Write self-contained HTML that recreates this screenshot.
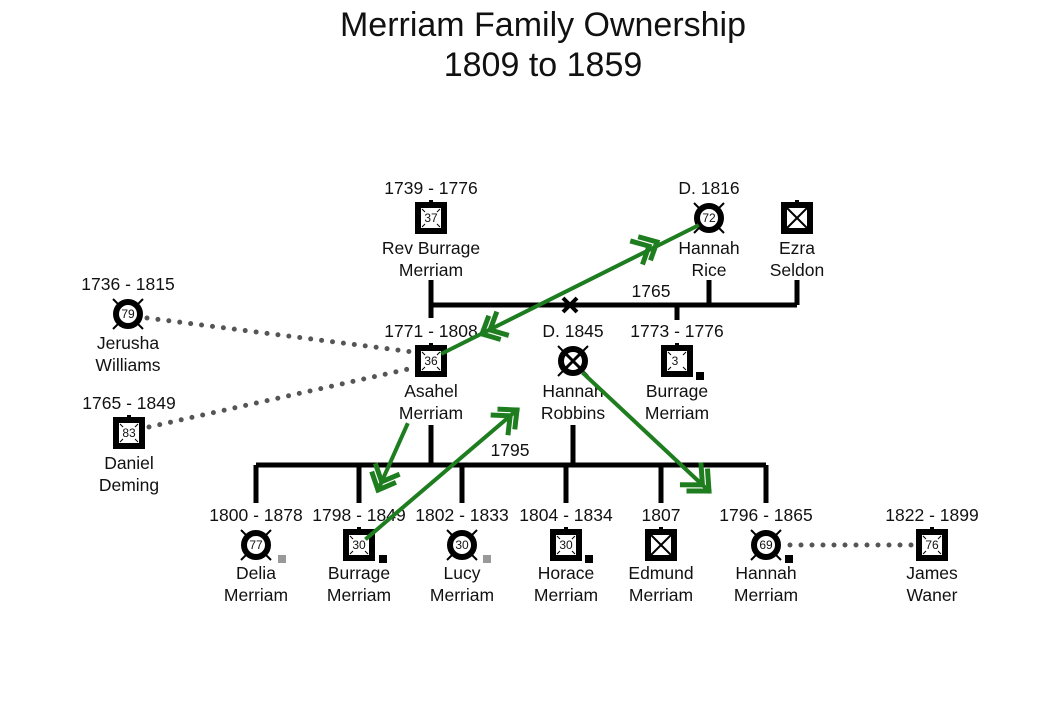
<!DOCTYPE html>
<html><head><meta charset="utf-8"><style>
html,body{margin:0;padding:0;background:#fff;}
svg{display:block;font-family:"Liberation Sans",Arial,sans-serif;}
</style></head><body>
<svg id="s" width="1054" height="703" viewBox="0 0 1054 703" xmlns="http://www.w3.org/2000/svg">
<rect width="1054" height="703" fill="#fff"/>
<text x="543" y="36" font-size="34" text-anchor="middle" fill="#111" textLength="406" lengthAdjust="spacingAndGlyphs">Merriam Family Ownership</text>
<text x="543" y="76" font-size="34" text-anchor="middle" fill="#111">1809 to 1859</text>

<g stroke="#000" stroke-width="5" fill="none">
<path d="M431 280V318M431 305H797M709 280V305M797 280V305M677 305V320"/>
<path d="M431 425V465M573 425V465M256 465H766M256 465V503M359 465V503M462 465V503M566 465V503M661 465V503M766 465V503"/>
<path d="M563 298L577 312M577 298L563 312" stroke-width="4"/>
</g>
<g stroke="#555" stroke-width="5" stroke-linecap="round" stroke-dasharray="0 11" fill="none">
<path d="M147 318L413 352"/>
<path d="M149 427L413 368"/>
<path d="M790 545L917 545"/>
</g>

<g id="nodes"></g>
<g id="labels" font-size="17.5" fill="#111" text-anchor="middle">
<text x="431" y="194">1739 - 1776</text><text x="431" y="254">Rev Burrage</text><text x="431" y="276">Merriam</text>
<text x="709" y="194">D. 1816</text><text x="709" y="254">Hannah</text><text x="709" y="276">Rice</text>
<text x="797" y="254">Ezra</text><text x="797" y="276">Seldon</text>
<text x="651" y="297">1765</text>
<text x="128" y="290">1736 - 1815</text><text x="128" y="349">Jerusha</text><text x="128" y="371">Williams</text>
<text x="129" y="409">1765 - 1849</text><text x="129" y="469">Daniel</text><text x="129" y="491">Deming</text>
<text x="431" y="337">1771 - 1808</text><text x="431" y="397">Asahel</text><text x="431" y="419">Merriam</text>
<text x="573" y="337">D. 1845</text><text x="573" y="397">Hannah</text><text x="573" y="419">Robbins</text>
<text x="677" y="337">1773 - 1776</text><text x="677" y="397">Burrage</text><text x="677" y="419">Merriam</text>
<text x="510" y="456">1795</text>
<text x="256" y="521">1800 - 1878</text><text x="256" y="579">Delia</text><text x="256" y="601">Merriam</text>
<text x="359" y="521">1798 - 1849</text><text x="359" y="579">Burrage</text><text x="359" y="601">Merriam</text>
<text x="462" y="521">1802 - 1833</text><text x="462" y="579">Lucy</text><text x="462" y="601">Merriam</text>
<text x="566" y="521">1804 - 1834</text><text x="566" y="579">Horace</text><text x="566" y="601">Merriam</text>
<text x="661" y="521">1807</text><text x="661" y="579">Edmund</text><text x="661" y="601">Merriam</text>
<text x="766" y="521">1796 - 1865</text><text x="766" y="579">Hannah</text><text x="766" y="601">Merriam</text>
<text x="932" y="521">1822 - 1899</text><text x="932" y="579">James</text><text x="932" y="601">Waner</text>
</g>
<g id="nodes2"></g>
<g id="arrows" stroke="#1e7d1e" stroke-width="4" fill="none" stroke-linecap="square"></g>
<g id="num" font-size="12" fill="#111" text-anchor="middle">
<text x="431" y="222">37</text><text x="709" y="222">72</text><text x="128" y="318">79</text><text x="129" y="437">83</text>
<text x="431" y="365">36</text><text x="675" y="365">3</text>
<text x="256" y="549">77</text><text x="359" y="549">30</text><text x="462" y="549">30</text><text x="566" y="549">30</text><text x="766" y="549">69</text><text x="932" y="549">76</text>
</g>
</svg>
<script>
var NS="http://www.w3.org/2000/svg";
function el(p,tag,a){var e=document.createElementNS(NS,tag);for(var k in a)e.setAttribute(k,a[k]);p.appendChild(e);return e;}
var nodes=document.getElementById('nodes');
function sq(x,y,cross){
  el(nodes,'rect',{x:x-13,y:y-13,width:26,height:26,fill:'#fff',stroke:'#000','stroke-width':6});
  if(cross){el(nodes,'path',{d:'M'+(x-10)+' '+(y-10)+'L'+(x+10)+' '+(y+10)+'M'+(x+10)+' '+(y-10)+'L'+(x-10)+' '+(y+10),stroke:'#000','stroke-width':2});}
  else{el(nodes,'path',{d:'M'+(x-9)+' '+(y-9)+'l3 3M'+(x+9)+' '+(y-9)+'l-3 3M'+(x-9)+' '+(y+9)+'l3 -3M'+(x+9)+' '+(y+9)+'l-3 -3',stroke:'#000','stroke-width':1});}
  el(nodes,'rect',{x:x-2,y:y-18,width:4,height:3,fill:'#000'});
}
function ci(x,y,cross){
  el(nodes,'path',{d:'M'+(x-15)+' '+(y-15)+'L'+(x+15)+' '+(y+15)+'M'+(x+15)+' '+(y-15)+'L'+(x-15)+' '+(y+15),stroke:'#000','stroke-width':2});
  el(nodes,'circle',{cx:x,cy:y,r:12,fill:'#fff',stroke:'#000','stroke-width':6});
  if(cross)el(nodes,'path',{d:'M'+(x-8)+' '+(y-8)+'L'+(x+8)+' '+(y+8)+'M'+(x+8)+' '+(y-8)+'L'+(x-8)+' '+(y+8),stroke:'#000','stroke-width':3});
}
function dot(x,y,c){el(nodes,'rect',{x:x-4,y:y-4,width:8,height:8,fill:c});}
sq(431,218);ci(709,218);sq(797,218,1);ci(128,314);sq(129,433);
sq(431,361);ci(573,361,1);sq(677,361);dot(700,376,'#000');
ci(256,545);dot(282,559,'#999');sq(359,545);dot(383,559,'#000');ci(462,545);dot(487,559,'#999');
sq(566,545);dot(589,559,'#000');sq(661,545,1);ci(766,545);dot(789,559,'#000');sq(932,545);
var ar=document.getElementById('arrows');
function line(a,b,c,d){el(ar,'line',{x1:a,y1:b,x2:c,y2:d});}
function chev(tx,ty,fx,fy,L){
  var dx=tx-fx,dy=ty-fy,n=Math.hypot(dx,dy);dx/=n;dy/=n;
  for(var i=0;i<2;i++){
    var px=tx-dx*i*9,py=ty-dy*i*9;
    var c=Math.cos(0.75),s=Math.sin(0.75);
    var ax=-dx*c+dy*s, ay=-dy*c-dx*s, bx=-dx*c-dy*s, by=-dy*c+dx*s;
    el(ar,'polyline',{points:(px+ax*L)+','+(py+ay*L)+' '+px+','+py+' '+(px+bx*L)+','+(py+by*L),'stroke-width':5});
  }
}
line(443,353,697,226);chev(657,242,443,353,17);chev(482,334,697,226,17);
line(407,425,378,490);chev(378,490,407,425,17);
line(367,538,517,410);chev(517,410,367,538,17);
line(584,374,709,491);chev(709,491,584,374,20);
</script>
</body></html>
